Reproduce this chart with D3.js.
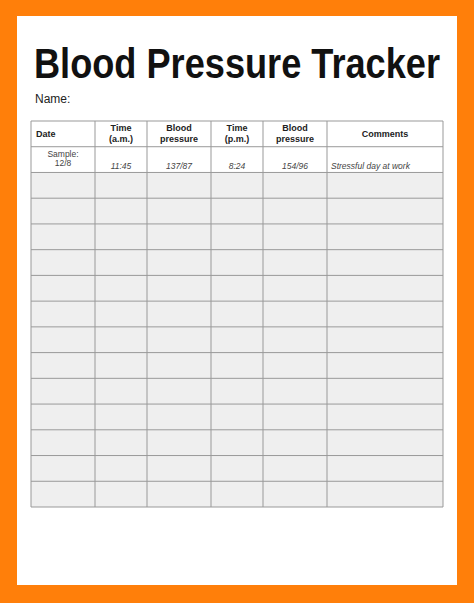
<!DOCTYPE html>
<html><head><meta charset="utf-8">
<script src="https://cdn.jsdelivr.net/npm/d3@7"></script>
<style>body{margin:0;background:#ff7f0a}</style></head>
<body><svg id="svg"></svg>
<script>
    // - table content
    var columns = ["Date", "Time|(a.m.)", "Blood|pressure", "Time|(p.m.)", "Blood|pressure", "Comments"];
    var colEdges = [31, 95, 147, 211, 263, 327, 443];
    var sampleRow = ["Sample:|12/8", "11:45", "137/87", "8:24", "154/96", "Stressful day at work"];
    var blankRows = 13;

    var W = 474, H = 603;
    var svg = d3.select("svg#svg").attr("width", W).attr("height", H);

    svg.append("rect").attr("width", W).attr("height", H).attr("fill", "#ff7f0a");
    svg.append("rect").attr("x", 17).attr("y", 16).attr("width", 440).attr("height", 569).attr("fill", "#fff");

    svg.append("text").attr("x", 34).attr("y", 78)
        .attr("textLength", 406).attr("lengthAdjust", "spacingAndGlyphs")
        .style("font", "bold 42px 'Liberation Sans', Arial, sans-serif").style("fill", "#111")
        .text("Blood Pressure Tracker");
    svg.append("text").attr("x", 35).attr("y", 103)
        .style("font", "12px 'Liberation Sans', Arial, sans-serif").style("fill", "#222").text("Name:");

    // - row scale: header, sample, blanks
    var rowIdx = d3.range(blankRows + 2);
    var y = d3.scaleBand().domain(rowIdx).range([121, 507]);
    var g = svg.append("g");

    // shaded blank rows
    g.selectAll("rect.blank").data(rowIdx.slice(2)).enter().append("rect")
        .attr("x", colEdges[0]).attr("width", colEdges[6] - colEdges[0])
        .attr("y", function(d) { return y(d) }).attr("height", y.bandwidth())
        .attr("fill", "#efefef");

    // horizontal lines
    g.selectAll("line.h").data(rowIdx.concat([rowIdx.length])).enter().append("line")
        .attr("x1", colEdges[0]).attr("x2", colEdges[6])
        .attr("y1", function(d) { return d < rowIdx.length ? y(d) : 507 })
        .attr("y2", function(d) { return d < rowIdx.length ? y(d) : 507 })
        .style("stroke", "#999").attr("stroke-width", 1);
    // vertical lines
    g.selectAll("line.v").data(colEdges).enter().append("line")
        .attr("x1", function(d) { return d }).attr("x2", function(d) { return d })
        .attr("y1", 121).attr("y2", 507)
        .style("stroke", "#999").attr("stroke-width", 1);

    // header text
    columns.forEach(function(c, i) {
        var parts = c.split("|");
        var cx = i == 0 ? colEdges[0] + 5 : (colEdges[i] + colEdges[i + 1]) / 2;
        var t = g.append("text").attr("x", cx)
            .style("font", "bold 9px 'Liberation Sans', Arial, sans-serif").style("fill", "#222")
            .style("text-anchor", i == 0 ? "start" : "middle");
        parts.forEach(function(p, k) {
            t.append("tspan").attr("x", cx)
                .attr("y", y(0) + y.bandwidth() / 2 + 3 + (k - (parts.length - 1) / 2) * 11).text(p);
        });
    });

    // sample row
    sampleRow.forEach(function(c, i) {
        var parts = c.split("|");
        var cx = i == 5 ? colEdges[i] + 4 : (colEdges[i] + colEdges[i + 1]) / 2;
        var t = g.append("text")
            .style("font", "italic 8.5px 'Liberation Sans', Arial, sans-serif").style("fill", "#444")
            .style("text-anchor", i == 5 ? "start" : "middle");
        if (parts.length > 1) {
            parts.forEach(function(p, k) {
                t.append("tspan").attr("x", cx).attr("y", y(1) + 10 + k * 9)
                    .style("font-style", "normal").text(p);
            });
        } else {
            t.attr("x", cx).attr("y", y(1) + 22).text(c);
        }
    });
</script></body></html>
